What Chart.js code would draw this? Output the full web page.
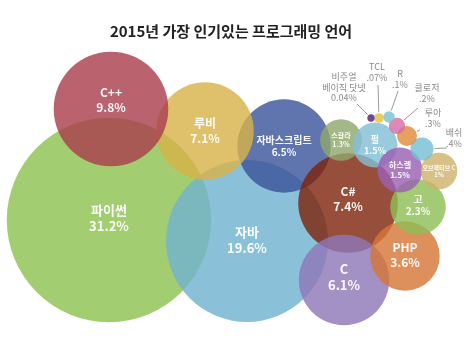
<!DOCTYPE html>
<html>
<head>
<meta charset="utf-8">
<script src="https://cdn.jsdelivr.net/npm/chart.js@4/dist/chart.umd.min.js"></script>
<style>
html,body{margin:0;padding:0;background:#fff;}
#wrap{width:474px;height:356px;position:relative;}
</style>
</head>
<body>
<div id="wrap"><canvas id="c" width="474" height="356"></canvas></div>
<script>
// ---- data ----
const languages = ['파이썬','자바','자바스크립트','루비','C++','C#','C','PHP','고','스칼라','펄','하스켈','오브젝티브 C','배쉬','루아','클로저','R','TCL','비주얼 베이직 닷넷'];
const shares    = [31.2, 19.6, 6.5, 7.1, 9.8, 7.4, 6.1, 3.6, 2.3, 1.3, 1.5, 1.5, 1, 0.4, 0.3, 0.2, 0.1, 0.07, 0.04];
const shareLabels = ['31.2%','19.6%','6.5%','7.1%','9.8%','7.4%','6.1%','3.6%','2.3%','1.3%','1.5%','1.5%','1%','.4%','.3%','.2%','.1%','.07%','0.04%'];
// bubble layout coordinates (chart units)
const posX = [109, 247, 284, 205, 111, 348, 344, 405, 418, 341, 375, 400, 439, 422, 407, 397, 389, 379, 371];
const posY = [220, 241, 146, 131, 109, 203, 280, 256, 207, 140, 145, 170, 171, 149, 136, 126, 117, 118, 118];
const chartTitle = '2015년 가장 인기있는 프로그래밍 언어';

// ---- styles ----
const colors = [
  'rgba(143,194,82,0.82)','rgba(114,179,208,0.82)','rgba(61,85,155,0.82)','rgba(215,179,73,0.82)',
  'rgba(171,64,78,0.82)','rgba(125,35,10,0.8)','rgba(143,120,184,0.82)','rgba(214,120,55,0.82)',
  'rgba(143,190,85,0.82)','rgba(143,167,108,0.82)','rgba(132,190,214,0.82)','rgba(155,96,179,0.82)',
  'rgba(208,179,108,0.82)','rgba(120,190,214,0.82)','rgba(225,140,60,0.82)','rgba(215,110,165,0.82)',
  'rgba(130,195,212,0.85)','rgba(232,200,80,0.9)','rgba(95,55,125,0.9)'
];
// inside-label font sizes (0 = external label with leader line)
const innerFont = [13,13,10,12,12,12,13,12,10,7,9,8,6,0,0,0,0,0,0];
const innerShiftY = [-2,-1,0,0,-9,-4,-3,-1,-2,0,0,0,0,0,0,0,0,0,0];
const nameLines = {18:['비주얼','베이직 닷넷']};
// external labels: [textX, textY(first line), lineX1, lineY1]
const extLabels = {
  13:[454,133,447,148],
  14:[433,113,420,130],
  15:[427,88,418,108],
  16:[400,74,398,91],
  17:[377,67,378,85],
  18:[344,77,357,104]
};
const radiusScale = 18.3;

const labelPlugin = {
  id:'bubbleLabels',
  afterDatasetsDraw(chart){
    const ctx = chart.ctx;
    const meta = chart.getDatasetMeta(0);
    ctx.save();
    ctx.textAlign='center';
    ctx.textBaseline='middle';
    meta.data.forEach((el,i)=>{
      const fs = innerFont[i];
      if (fs>0){
        ctx.fillStyle='rgba(255,255,255,0.95)';
        ctx.font = 'bold '+fs+'px "Noto Sans CJK KR", "Noto Sans", sans-serif';
        const gap = fs*0.62;
        const cy = el.y + innerShiftY[i];
        ctx.fillText(languages[i], el.x, cy - gap);
        ctx.fillText(shareLabels[i], el.x, cy + gap);
      } else {
        const e = extLabels[i];
        ctx.strokeStyle='#9a9a9a';
        ctx.lineWidth=1;
        ctx.beginPath();
        ctx.moveTo(e[2],e[3]);
        const dx = el.x - e[2], dy = el.y - e[3];
        const d = Math.hypot(dx,dy);
        const r = el.options.radius + 1;
        ctx.lineTo(el.x - dx/d*r, el.y - dy/d*r);
        ctx.stroke();
        ctx.fillStyle='#8a8a8a';
        ctx.font = '9px "Noto Sans CJK KR", "Noto Sans", sans-serif';
        const lines = (nameLines[i] || [languages[i]]).concat([shareLabels[i]]);
        lines.forEach((t,k)=>ctx.fillText(t, e[0], e[1] + k*10.5));
      }
    });
    ctx.restore();
  }
};

const titlePlugin = {
  id:'customTitle',
  afterDraw(chart){
    const ctx = chart.ctx;
    ctx.save();
    ctx.fillStyle='#222';
    ctx.font='bold 15px "Noto Sans CJK KR", sans-serif';
    ctx.textAlign='center';
    ctx.textBaseline='middle';
    ctx.fillText(chartTitle, 231, 31);
    ctx.restore();
  }
};

new Chart(document.getElementById('c'), {
  type:'bubble',
  data:{
    datasets:[{
      data: languages.map((n,i)=>({x:posX[i], y:posY[i], r: radiusScale*Math.sqrt(shares[i])})),
      backgroundColor: colors,
      borderWidth:0,
      hoverBorderWidth:0,
      clip:false
    }]
  },
  options:{
    responsive:false,
    animation:false,
    layout:{padding:0, autoPadding:false},
    plugins:{legend:{display:false}, tooltip:{enabled:false}, title:{display:false}},
    scales:{
      x:{type:'linear', min:0, max:474, display:false},
      y:{type:'linear', min:0, max:356, reverse:true, display:false}
    }
  },
  plugins:[labelPlugin, titlePlugin]
});
</script>
</body>
</html>
